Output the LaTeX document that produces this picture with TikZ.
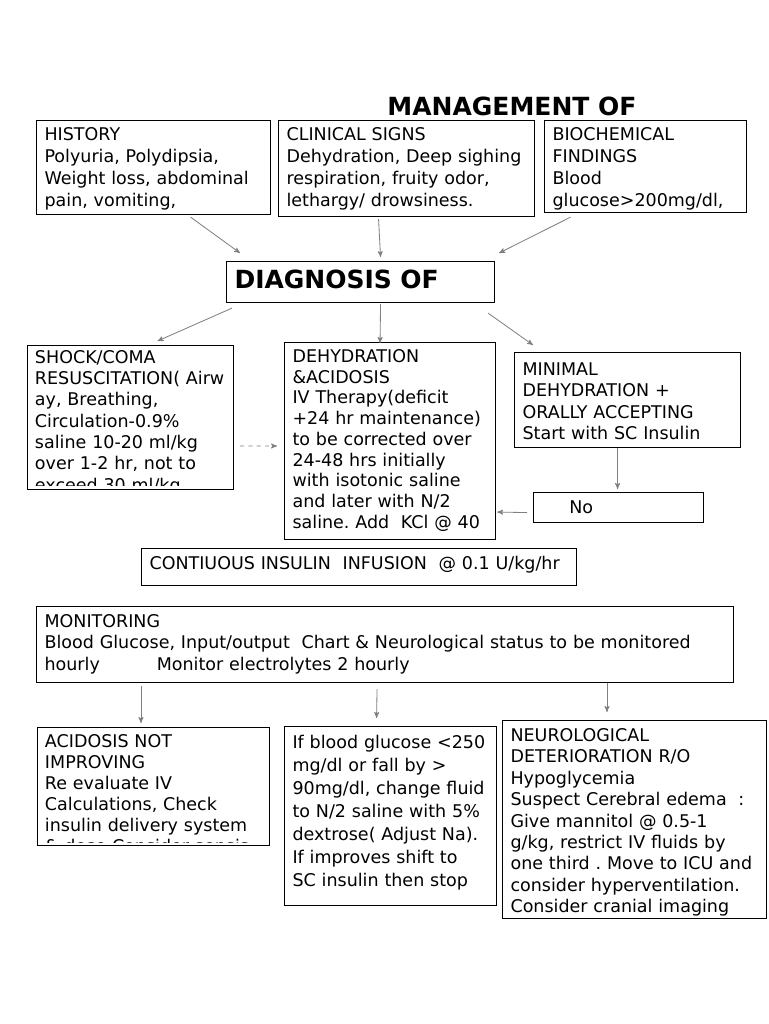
\documentclass[tikz,border=0pt]{standalone}
\usepackage{fontspec}
\setmainfont{DejaVu Sans}
\frenchspacing
\usetikzlibrary{arrows,positioning,calc}

\begin{document}
\begin{tikzpicture}
        [x = 0.72pt, y = -0.72pt, >=stealth', thin,
        box/.style = {rectangle, draw=black, line width = 0.8pt, anchor = north west, align = left,
                      inner xsep = 5.76pt, inner ysep = 0pt, text height = 14.4pt,
                      font = \fontsize{12.6}{15.4}\selectfont},
        cut/.style = {draw = none, outer sep = 0pt},
        head/.style = {rectangle, inner sep = 0pt, font = \bfseries\fontsize{18}{21}\selectfont},
        link/.style = {->, draw = black!50, line width = 0.6pt}]

        \useasboundingbox (0,0) rectangle (768,1024);

        %% place elements on canvas
        \node[head] (title) at (512,106) {MANAGEMENT OF};

        \node[box, text width = 156.96pt, text depth = 53.28pt, font = \fontsize{12.6}{15.84}\selectfont] (history) at (36,120)
            {HISTORY\\ Polyuria, Polydipsia,\\ Weight loss, abdominal\\ pain, vomiting,};
        \node[box, text width = 172.8pt, text depth = 54.72pt, font = \fontsize{12.6}{15.84}\selectfont] (clinical) at (278,120)
            {CLINICAL SIGNS\\ Dehydration, Deep sighing\\ respiration, fruity odor,\\ lethargy/ drowsiness.};
        \node[box, text width = 133.92pt, text depth = 51.84pt, font = \fontsize{12.6}{15.84}\selectfont] (biochem) at (544,120)
            {BIOCHEMICAL\\ FINDINGS\\ Blood\\ glucose>200mg/dl,};

        \node[box, text width = 181.44pt, text height = 19.44pt, text depth = 10.08pt,
              font = \bfseries\fontsize{18}{21}\selectfont] (diag) at (226,261) {DIAGNOSIS OF};

        %% boxes whose last line is cut off
        \begin{scope}
            \clip (27,345) rectangle (234,485);
            \node[box, cut, text width = 137.52pt, text height = 12.96pt, text depth = 91.44pt] (shock) at (27,345)
                {SHOCK/COMA\\ RESUSCITATION( Airw\\ ay, Breathing,\\ Circulation-0.9\%\\ saline 10-20 ml/kg\\ over 1-2 hr, not to\\ exceed 30 ml/kg};
        \end{scope}
        \draw[line width = 0.8pt] ($(shock.north west)+(0.55,0.55)$) rectangle ($(shock.south east)+(-0.55,-0.55)$);

        \node[box, text width = 140.4pt, text depth = 127.44pt, font = \fontsize{12.6}{14.9}\selectfont] (dehyd) at (284,342)
            {DEHYDRATION\\ \&ACIDOSIS\\ IV Therapy(deficit\\ +24 hr maintenance)\\ to be corrected over\\ 24-48 hrs initially\\ with isotonic saline\\ and later with N/2\\ saline. Add\ \ KCl @ 40};
        \node[box, text width = 151.2pt, text height = 16.56pt, text depth = 51.84pt] (minimal) at (514,352)
            {MINIMAL\\ DEHYDRATION +\\ ORALLY ACCEPTING\\ Start with SC Insulin};
        \node[box, text width = 110.88pt, text height = 15.12pt, text depth = 6.48pt] (no) at (533,492)
            {\hspace*{20pt}No};

        \node[box, text width = 301.68pt, text height = 15.12pt, text depth = 11.52pt] (insulin) at (141,548)
            {CONTIUOUS INSULIN\ \ INFUSION\ \ @ 0.1 U/kg/hr};
        \node[box, text width = 490.32pt, text height = 15.12pt, text depth = 39.6pt] (monitor) at (36,606)
            {MONITORING\\ Blood Glucose, Input/output\ \ Chart \& Neurological status to be monitored\\ hourly\hspace{41pt}Monitor electrolytes 2 hourly};

        \begin{scope}
            \clip (37,727) rectangle (270,842);
            \node[box, cut, text width = 156.24pt, text height = 14.4pt, text depth = 71.28pt,
                  font = \fontsize{12.6}{15.12}\selectfont] (acidosis) at (37,727)
                {ACIDOSIS NOT\\ IMPROVING\\ Re evaluate IV\\ Calculations, Check\\ insulin delivery system\\ \& dose Consider sepsis};
        \end{scope}
        \draw[line width = 0.8pt] ($(acidosis.north west)+(0.55,0.55)$) rectangle ($(acidosis.south east)+(-0.55,-0.55)$);

        \node[box, text width = 141.12pt, text height = 15.84pt, text depth = 113.04pt, font = \fontsize{12.6}{16.56}\selectfont] (glucose) at (284,726)
            {If blood glucose <250\\ mg/dl or fall by >\\ 90mg/dl, change fluid\\ to N/2 saline with 5\%\\ dextrose( Adjust Na).\\ If improves shift to\\ SC insulin then stop};
        \node[box, text width = 178.56pt, text height = 15.12pt, text depth = 127.44pt] (neuro) at (502,720)
            {NEUROLOGICAL\\ DETERIORATION R/O\\ Hypoglycemia\\ Suspect Cerebral edema\ \ :\\ Give mannitol @ 0.5-1\\ g/kg, restrict IV fluids by\\ one third . Move to ICU and\\ consider hyperventilation.\\ Consider cranial imaging};

        %% connect elements
        \draw[link] ($(history.south)+(37,2)$) -- ($(diag.north west)+(14,-8)$);
        \draw[link] ($(clinical.south)+(-28,2)$) -- ($(diag.north)+(20,-4)$);
        \draw[link] ($(biochem.south)+(-75,4)$) -- ($(diag.north east)+(4,-8)$);

        \draw[link] ($(diag.south west)+(6,5)$) -- ($(shock.north)+(27,-4)$);
        \draw[link] ($(diag.south)+(20,1)$) -- ($(dehyd.north)+(-10,1)$);
        \draw[link] ($(diag.south east)+(-7,10)$) -- ($(minimal.north west)+(19,-7)$);

        \draw[link, dashed] ($(shock.south east)+(6,-44)$) -- ($(dehyd.north west)+(-7,104)$);
        \draw[link] ($(minimal.south)+(-10,0)$) -- ($(no.north)+(-1,-3)$);
        \draw[link] ($(no.west)+(-6,5)$) -- ($(dehyd.east)+(1,71)$);

        \draw[link] ($(monitor.south west)+(105,3)$) -- ($(acidosis.north west)+(104,-4)$);
        \draw[link] ($(monitor.south)+(-8,6)$) -- ($(glucose.north)+(-14,-8)$);
        \draw[link] ($(monitor.south west)+(571,0)$) -- ($(neuro.north west)+(105,-8)$);
    \end{tikzpicture}
\end{document}
